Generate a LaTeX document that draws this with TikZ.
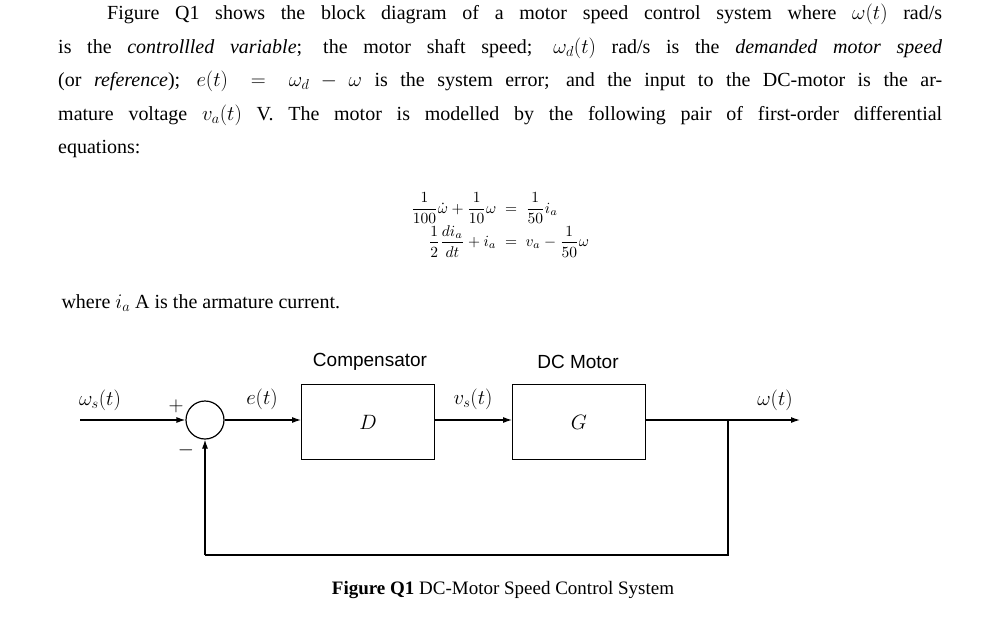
\documentclass[tikz,border=0pt]{standalone}
\usepackage{amsmath}
\usepackage{graphicx}
\usepackage{fontspec}
\setmainfont{Liberation Serif}
\newfontfamily\sansf{Liberation Sans}
\usetikzlibrary{arrows.meta}
\begin{document}
\begin{tikzpicture}[x=1pt,y=-1pt,
  blk/.style={draw,line width=0.9pt,minimum width=133pt,minimum height=75pt,font=\fontsize{21}{24}\selectfont},
  lbl/.style={font=\fontsize{20}{22}\selectfont},
  sig/.style={line width=1.2pt,-{Latex[length=9pt,width=6pt]}},
  ln/.style={line width=1.2pt}]
\useasboundingbox (0,0) rectangle (994,622);
\node[anchor=north west,text width=884pt,align=justify,inner sep=0pt,font=\fontsize{20}{33.5}\selectfont] (para) at (58,4)
 {\hspace*{49pt}Figure Q1 shows the block diagram of a motor speed control system where $\omega(t)$ rad/s\linebreak is the \emph{controllled variable}; the motor shaft speed; $\omega_d(t)$ rad/s is the \emph{demanded motor speed}\linebreak (or \emph{reference}); $e(t)=\omega_d-\omega$ is the system error; and the input to the DC-motor is the ar-\linebreak mature voltage $v_a(t)$ V. The motor is modelled by the following pair of first-order differential\linebreak equations:};
\node (eq) at (500,225) {\scalebox{1.55}{$\begin{aligned}
\frac{1}{100}\dot\omega+\frac{1}{10}\omega &\;=\; \frac{1}{50}i_a\\[-3pt]
\frac{1}{2}\frac{di_a}{dt}+i_a &\;=\; v_a-\frac{1}{50}\omega
\end{aligned}$}};
\node[anchor=west,font=\fontsize{20}{22}\selectfont] (where) at (58,303) {where $i_a$ A is the armature current.};
% diagram
\coordinate (in) at (80,420);
\node[draw,circle,line width=1.2pt,minimum size=38pt,inner sep=0pt] (sum) at (205,420) {};
\node[blk] (D) at (368,422) {$D$};
\node[blk] (G) at (579,422) {$G$};
\coordinate (out) at (800,420);
\coordinate (br) at (728,420);
\coordinate (fb1) at (728,555);
\coordinate (fb2) at (205,555);
\draw[sig] (in) -- (sum);
\draw[sig] (sum) -- (D.west|-sum);
\draw[sig] (D.east|-sum) -- (G.west|-sum);
\draw[sig] (G.east|-sum) -- (out);
\draw[ln] (br) -- (fb1) -- (fb2);
\draw[sig] (fb2) -- (sum);
\node[lbl] (wd) at (100,400) {$\omega_s(t)$};
\node[lbl] (plus) at (176,406) {$+$};
\node[lbl] (minus) at (186,450) {$-$};
\node[lbl] (e) at (262,399) {$e(t)$};
\node[lbl] (vs) at (473,399) {$v_s(t)$};
\node[lbl] (w) at (775,400) {$\omega(t)$};
\node[font=\sansf\fontsize{19}{22}\selectfont] (comp) at (370,362) {Compensator};
\node[font=\sansf\fontsize{19}{22}\selectfont] (mot) at (578,362) {DC Motor};
\node[font=\fontsize{19}{22}\selectfont] (cap) at (503,590) {\textbf{Figure Q1} DC-Motor Speed Control System};
\end{tikzpicture}
\end{document}
